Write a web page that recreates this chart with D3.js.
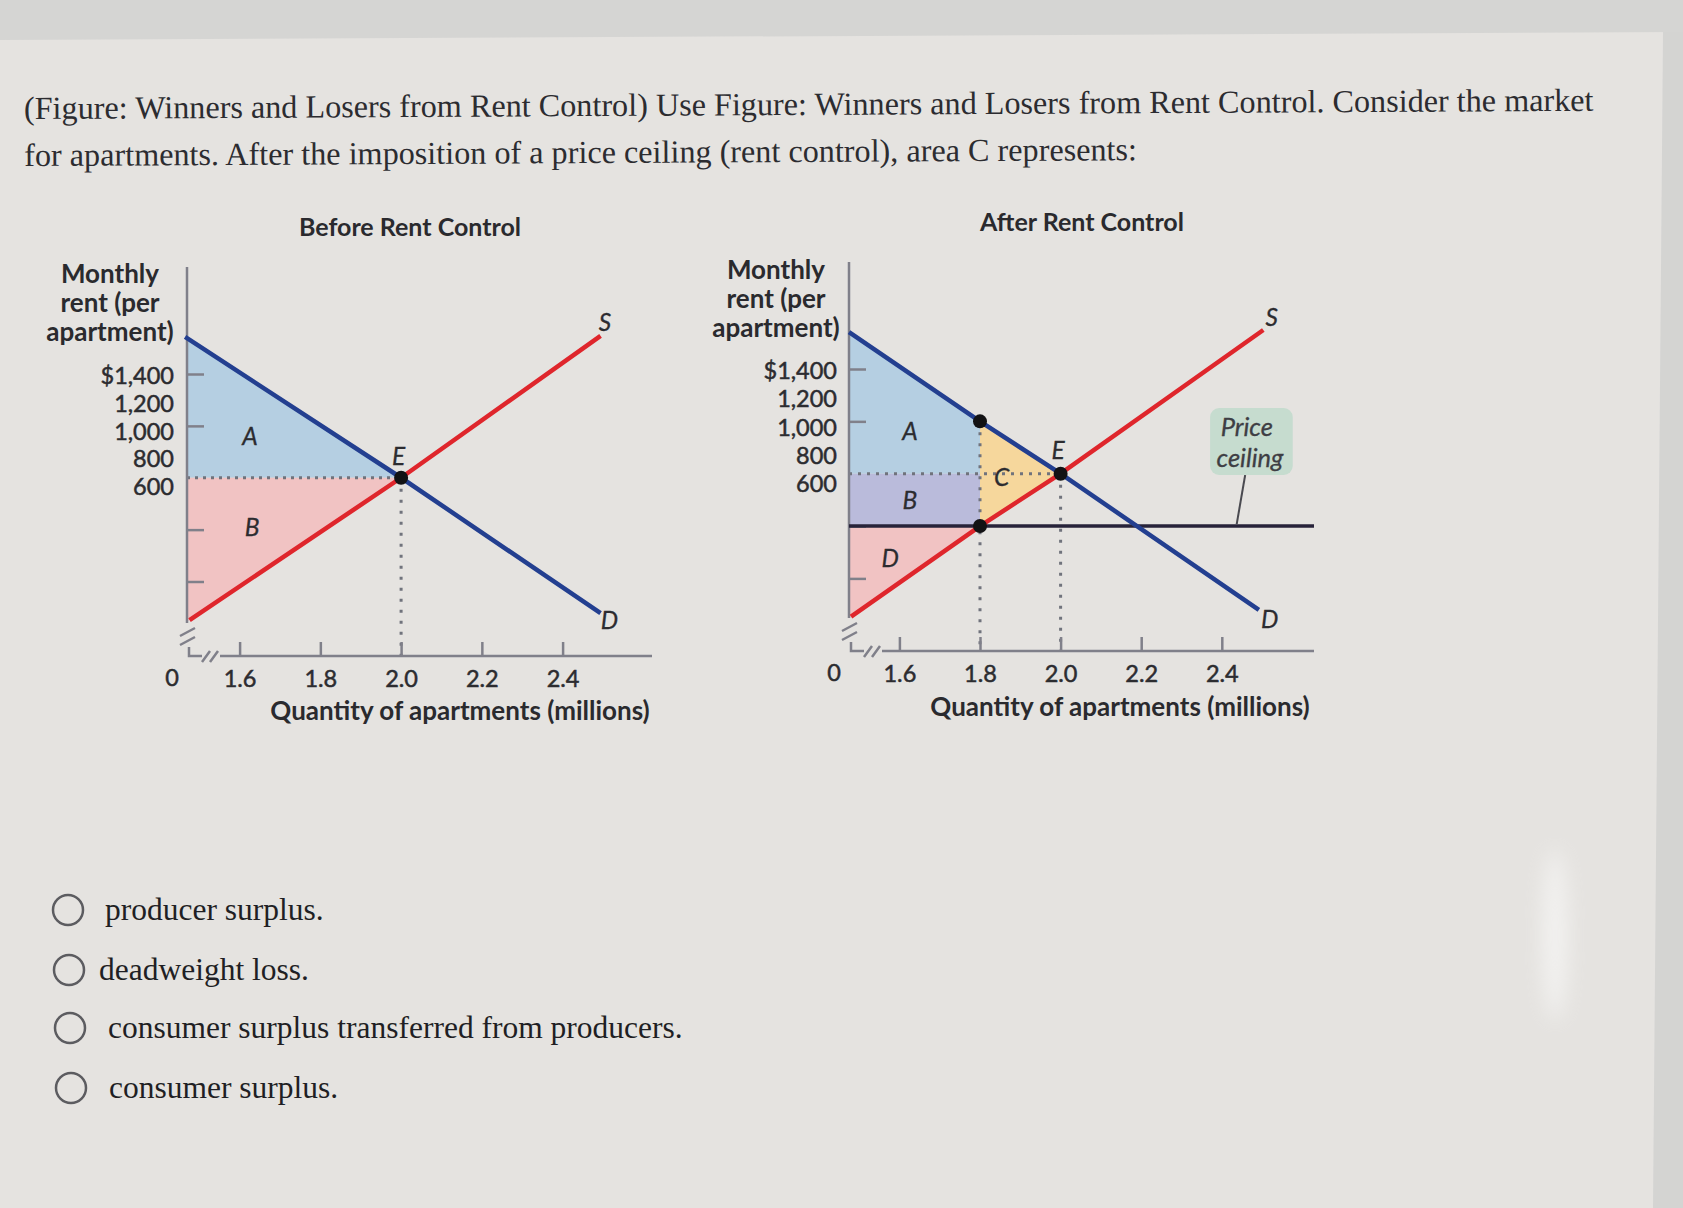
<!DOCTYPE html>
<html><head><meta charset="utf-8">
<script src="https://cdn.jsdelivr.net/npm/d3@7"></script>
<style>body{margin:0;background:#e5e3e0;overflow:hidden} svg{display:block}</style>
</head><body>
<svg id="c" width="1683" height="1208"></svg>
<script>
// ---------------- data ----------------
const questionLines = [
  "(Figure: Winners and Losers from Rent Control) Use Figure: Winners and Losers from Rent Control. Consider the market",
  "for apartments. After the imposition of a price ceiling (rent control), area C represents:"
];
const answerOptions = ["producer surplus.", "deadweight loss.", "consumer surplus transferred from producers.", "consumer surplus."];
const chartTitles = ["Before Rent Control", "After Rent Control"];
const yTitleLines = ["Monthly", "rent (per", "apartment)"];
const xTitle = "Quantity of apartments (millions)";
const priceTickLabels = ["$1,400", "1,200", "1,000", "800", "600"];
const priceTickValues = [1400, 1200, 1000, 800, 600];
const priceTickMarks = [1400, 1200, 800, 600];
const quantityTicks = [1.6, 1.8, 2.0, 2.2, 2.4];
const quantityTickLabels = ["1.6", "1.8", "2.0", "2.2", "2.4"];
const demandBefore = [{q:1.465, p:1543}, {q:2.0, p:1000}, {q:2.494, p:478}];
const supplyBefore = [{q:1.476, p:451}, {q:2.0, p:1000}, {q:2.494, p:1547}];
const demandAfter = [{q:1.475, p:1541}, {q:1.8, p:1200}, {q:2.0, p:1000}, {q:2.492, p:480}];
const supplyAfter = [{q:1.48, p:454}, {q:1.8, p:800}, {q:2.0, p:1000}, {q:2.503, p:1549}];
const equilibrium = {q:2.0, p:1000};
const ceilingPrice = 800;
const ceilingQuantity = 1.8;
const demandPriceAtCeilingQuantity = 1200;

// ---------------- page ----------------
const svg = d3.select("#c");
svg.append("rect").attr("width", 1683).attr("height", 1208).attr("fill", "#e5e3e0");
svg.append("path").attr("d", "M0,0H1683V32L0,40Z").attr("fill", "#d5d5d3");
svg.append("path").attr("d", "M1663,32H1683V1208H1653Z").attr("fill", "#d4d4d2");
const defs = svg.append("defs");
defs.append("filter").attr("id", "blur").attr("x", "-200%").attr("width", "500%")
  .append("feGaussianBlur").attr("stdDeviation", 10);
svg.append("ellipse").attr("cx", 1555).attr("cy", 935).attr("rx", 12).attr("ry", 85)
  .attr("fill", "#ffffff").attr("opacity", 0.55).attr("filter", "url(#blur)");

const serif = "'Liberation Serif','Times New Roman',serif";
const sans = "Lato,'Open Sans',sans-serif";
const ink = "#2c2c30";

const qg = svg.append("g").attr("transform", "rotate(-0.3,24,119)");
qg.selectAll("text").data(questionLines).join("text")
  .attr("x", 24).attr("y", (d, i) => 119 + i * 47)
  .attr("font-family", serif).attr("font-size", 32.2).attr("fill", ink).text(d => d);

const optionLayout = [{cx:68, cy:910, tx:105}, {cx:69, cy:970, tx:99}, {cx:70, cy:1028, tx:108}, {cx:71, cy:1088, tx:109}];
const og = svg.append("g");
og.selectAll("circle").data(answerOptions).join("circle")
  .attr("cx", (d, i) => optionLayout[i].cx).attr("cy", (d, i) => optionLayout[i].cy).attr("r", 15)
  .attr("fill", "none").attr("stroke", "#5c5c60").attr("stroke-width", 2.5);
og.selectAll("text").data(answerOptions).join("text")
  .attr("x", (d, i) => optionLayout[i].tx).attr("y", (d, i) => optionLayout[i].cy + 10)
  .attr("font-family", serif).attr("font-size", 31.5).attr("fill", "#1f1f24").text(d => d);

// ---------------- charts ----------------
const blueFill = "#b5cfe2", pinkFill = "#f1c3c3", purpleFill = "#babbdb", orangeFill = "#f6d79c";
const demandColor = "#233f90", supplyColor = "#df262c", axisColor = "#80808a", dotColor = "#70737c";

function at(curve, q) {
  let i = 0;
  while (i < curve.length - 2 && q > curve[i + 1].q) i++;
  const a = curve[i], b = curve[i + 1];
  return a.p + (b.p - a.p) * (q - a.q) / (b.q - a.q);
}

function drawChart(cfg) {
  const g = svg.append("g");
  const x = d3.scaleLinear().domain([1.6, 2.4]).range(cfg.xr);
  const y = d3.scaleLinear().domain([600, 1400]).range(cfg.yr);
  const lab = d3.scaleLinear().domain([600, 1400]).range(cfg.labr);
  const qA = x.invert(cfg.axisX);
  const pAxis = y.invert(cfg.xAxisY);
  const line = d3.line().x(d => x(d.q)).y(d => y(d.p));
  const poly = pts => line(pts) + "Z";
  const D = cfg.demand, S = cfg.supply;

  cfg.areas(qA, D, S).forEach(a => {
    g.append("path").attr("d", poly(a.pts)).attr("fill", a.fill);
  });

  cfg.guides(qA, pAxis).forEach(s => {
    g.append("path").attr("d", line(s.pts)).attr("fill", "none")
      .attr("stroke", dotColor).attr("stroke-width", 3).attr("stroke-dasharray", s.dash);
  });

  const ax = g.append("g").attr("stroke", axisColor).attr("stroke-width", 2.5).attr("fill", "none");
  const X0 = cfg.axisX, Y0 = cfg.xAxisY;
  ax.append("path").attr("d", `M${X0},${cfg.axisTop}V${Y0 - 33}`);
  ax.append("path").attr("d", `M${X0 - 7},${Y0 - 20}L${X0 + 8},${Y0 - 28}M${X0 - 7},${Y0 - 11}L${X0 + 8},${Y0 - 19}`);
  ax.append("path").attr("d", `M${X0 + 2},${Y0 - 9}V${Y0}H${X0 + 15}`);
  ax.append("path").attr("d", `M${X0 + 15},${Y0 + 6}L${X0 + 23},${Y0 - 5}M${X0 + 23},${Y0 + 6}L${X0 + 31},${Y0 - 5}`);
  ax.append("path").attr("d", `M${X0 + 33},${Y0}H${cfg.xAxisEnd}`);

  const yAx = g.append("g").attr("transform", `translate(${X0},0)`)
    .call(d3.axisRight(y).tickValues(priceTickMarks).tickSize(17).tickFormat(""));
  yAx.select(".domain").remove();
  yAx.selectAll("line").attr("stroke", axisColor).attr("stroke-width", 2.5);

  g.append("g").selectAll("text").data(priceTickValues).join("text")
    .attr("x", cfg.labX).attr("y", d => lab(d)).attr("dy", "0.35em").attr("text-anchor", "end")
    .attr("font-family", sans).attr("font-size", 23.5).attr("fill", ink)
    .attr("stroke", ink).attr("stroke-width", 0.5)
    .text((d, i) => priceTickLabels[i]);

  const xAx = g.append("g").attr("transform", `translate(0,${Y0})`)
    .call(d3.axisBottom(x).tickValues(quantityTicks).tickSizeInner(-14).tickSizeOuter(0).tickPadding(14)
      .tickFormat((d, i) => quantityTickLabels[i]));
  xAx.select(".domain").remove();
  xAx.selectAll("line").attr("stroke", axisColor).attr("stroke-width", 2.5);
  xAx.selectAll("text").attr("font-family", sans).attr("font-size", 23.5).attr("fill", ink)
    .attr("stroke", ink).attr("stroke-width", 0.5);
  g.append("text").attr("x", X0 - 15).attr("y", Y0 + 22).attr("dy", "0.35em").attr("text-anchor", "middle")
    .attr("font-family", sans).attr("font-size", 23.5).attr("fill", ink)
    .attr("stroke", ink).attr("stroke-width", 0.5).text("0");

  if (cfg.ceiling) {
    g.append("path").attr("d", `M${X0},${y(ceilingPrice)}H${cfg.xAxisEnd}`)
      .attr("stroke", "#27233a").attr("stroke-width", 3.5);
  }

  g.append("path").attr("d", line(D)).attr("fill", "none").attr("stroke", demandColor).attr("stroke-width", 4.5);
  g.append("path").attr("d", line(S)).attr("fill", "none").attr("stroke", supplyColor).attr("stroke-width", 4.5);

  g.selectAll("circle.pt").data(cfg.dots).join("circle").attr("class", "pt")
    .attr("cx", d => x(d.q)).attr("cy", d => y(d.p)).attr("r", 7).attr("fill", "#121214");

  g.selectAll("text.lbl").data(cfg.labels).join("text").attr("class", "lbl")
    .attr("x", d => x(d.q)).attr("y", d => y(d.p)).attr("dy", "0.36em").attr("text-anchor", "middle")
    .attr("font-family", sans).attr("font-style", "italic").attr("font-size", 24.5).attr("fill", ink)
    .attr("stroke", ink).attr("stroke-width", 0.3)
    .text(d => d.t);

  g.append("text").attr("x", cfg.titleX).attr("y", cfg.titleY).attr("text-anchor", "middle")
    .attr("font-family", sans).attr("font-weight", 700).attr("font-size", 25).attr("fill", "#2a2a2e").text(cfg.title);
  g.append("text").attr("x", cfg.xTitleX).attr("y", cfg.xTitleY).attr("text-anchor", "middle")
    .attr("font-family", sans).attr("font-weight", 700).attr("font-size", 26).attr("fill", "#2a2a2e").text(xTitle);
  g.append("g").selectAll("text").data(yTitleLines).join("text")
    .attr("x", cfg.yTitleX).attr("y", (d, i) => cfg.yTitleY + i * 29).attr("text-anchor", "middle")
    .attr("font-family", sans).attr("font-weight", 700).attr("font-size", 26).attr("fill", "#2a2a2e").text(d => d);

  if (cfg.ceiling) {
    const bx0 = x(2.371), bx1 = x(2.576), by0 = y(1251), by1 = y(995);
    g.append("path").attr("d", `M${x(2.458)},${by1}L${x(2.437)},${y(ceilingPrice) - 2}`)
      .attr("stroke", "#4a4a50").attr("stroke-width", 2);
    g.append("rect").attr("x", bx0).attr("y", by0).attr("width", bx1 - bx0).attr("height", by1 - by0)
      .attr("rx", 9).attr("fill", "#c6dccf");
    g.append("text").attr("x", x(2.462)).attr("y", y(1180)).attr("dy", "0.36em").attr("text-anchor", "middle")
      .attr("font-family", sans).attr("font-style", "italic").attr("font-size", 25.5).attr("fill", "#3e3e44")
      .attr("stroke", "#3e3e44").attr("stroke-width", 0.3).text("Price");
    g.append("text").attr("x", x(2.470)).attr("y", y(1062)).attr("dy", "0.36em").attr("text-anchor", "middle")
      .attr("font-family", sans).attr("font-style", "italic").attr("font-size", 25.5).attr("fill", "#3e3e44")
      .attr("stroke", "#3e3e44").attr("stroke-width", 0.3).text("ceiling");
  }
}

drawChart({
  xr: [239.6, 562.6], yr: [581.5, 374], labr: [487, 375.6], labX: 174,
  axisX: 187, axisTop: 267, xAxisY: 656, xAxisEnd: 652,
  demand: demandBefore, supply: supplyBefore, ceiling: false,
  title: chartTitles[0], titleX: 410, titleY: 236,
  xTitleX: 460, xTitleY: 720, yTitleX: 110, yTitleY: 283,
  areas: (qA, D, S) => [
    {fill: blueFill, pts: [{q:qA, p:at(D, qA)}, equilibrium, {q:qA, p:equilibrium.p}]},
    {fill: pinkFill, pts: [{q:qA, p:equilibrium.p}, equilibrium, {q:qA, p:at(S, qA)}]}
  ],
  guides: (qA, pAxis) => [
    {dash: "3,5", pts: [{q:qA, p:equilibrium.p}, equilibrium]},
    {dash: "3,8", pts: [equilibrium, {q:equilibrium.q, p:pAxis}]}
  ],
  dots: [equilibrium],
  labels: [
    {t:"A", q:1.626, p:1161}, {t:"B", q:1.631, p:810}, {t:"E", q:1.994, p:1082},
    {t:"S", q:2.505, p:1600}, {t:"D", q:2.516, p:452}
  ]
});

drawChart({
  xr: [899.4, 1221.8], yr: [578.4, 369], labr: [484, 370.6], labX: 837,
  axisX: 849, axisTop: 262, xAxisY: 651, xAxisEnd: 1314,
  demand: demandAfter, supply: supplyAfter, ceiling: true,
  title: chartTitles[1], titleX: 1082, titleY: 231,
  xTitleX: 1120, xTitleY: 716, yTitleX: 776, yTitleY: 279,
  areas: (qA, D, S) => [
    {fill: blueFill, pts: [{q:qA, p:at(D, qA)}, {q:ceilingQuantity, p:demandPriceAtCeilingQuantity},
      {q:ceilingQuantity, p:equilibrium.p}, {q:qA, p:equilibrium.p}]},
    {fill: purpleFill, pts: [{q:qA, p:equilibrium.p}, {q:ceilingQuantity, p:equilibrium.p},
      {q:ceilingQuantity, p:ceilingPrice}, {q:qA, p:ceilingPrice}]},
    {fill: orangeFill, pts: [{q:ceilingQuantity, p:demandPriceAtCeilingQuantity}, equilibrium,
      {q:ceilingQuantity, p:ceilingPrice}]},
    {fill: pinkFill, pts: [{q:qA, p:ceilingPrice}, {q:ceilingQuantity, p:ceilingPrice}, {q:qA, p:at(S, qA)}]}
  ],
  guides: (qA, pAxis) => [
    {dash: "3,6", pts: [{q:qA, p:equilibrium.p}, equilibrium]},
    {dash: "3,8", pts: [{q:ceilingQuantity, p:demandPriceAtCeilingQuantity}, {q:ceilingQuantity, p:pAxis}]},
    {dash: "3,8", pts: [equilibrium, {q:equilibrium.q, p:pAxis}]}
  ],
  dots: [{q:ceilingQuantity, p:demandPriceAtCeilingQuantity}, equilibrium, {q:ceilingQuantity, p:ceilingPrice}],
  labels: [
    {t:"A", q:1.626, p:1163}, {t:"B", q:1.626, p:900}, {t:"C", q:1.854, p:987}, {t:"D", q:1.577, p:678},
    {t:"E", q:1.994, p:1091}, {t:"S", q:2.524, p:1599}, {t:"D", q:2.519, p:446}
  ]
});
</script>
</body></html>
